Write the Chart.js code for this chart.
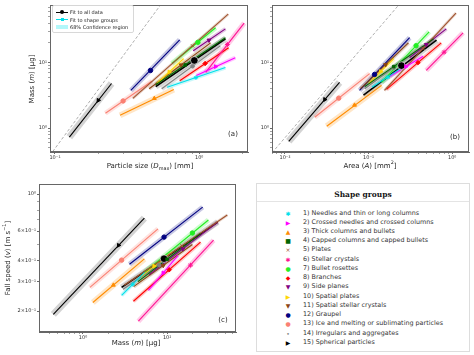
<!DOCTYPE html>
<html><head><meta charset="utf-8">
<script src="https://cdn.jsdelivr.net/npm/chart.js@4.4.1/dist/chart.umd.min.js"></script>
<style>
body{margin:0;width:474px;height:355px;position:relative;background:#fff;font-family:"DejaVu Sans",sans-serif;overflow:hidden}
canvas{position:absolute;left:0;top:0}
.t{position:absolute;white-space:nowrap;color:#222;transform:translate(-50%,-50%);line-height:1;opacity:0.99}
.t.r{transform:translate(-50%,-50%) rotate(-90deg)}
.ax{font-size:7px}
.pl{font-size:7px}
sub,sup{font-size:70%;line-height:0}
#lga{position:absolute;left:52px;top:5px;width:80px;height:26px;border:1px solid #d8d8d8;border-radius:2px;background:rgba(255,255,255,0.85);font-size:5px;color:#222;opacity:0.99}
#lga .row{position:absolute;left:0;height:6px;width:80px}
#lga .txt{position:absolute;left:17px;top:0;line-height:6px}
#lg{position:absolute;left:256px;top:183px;width:212px;height:167px;border:1px solid #ddd;background:#fff;opacity:0.99}
#lg .title{position:absolute;left:0;width:212px;top:6px;text-align:center;font-family:"DejaVu Serif",serif;font-weight:bold;font-size:7.5px;color:#111}
#lg .sep{position:absolute;left:0;width:212px;top:17px;border-top:1px solid #e4e4e4}
#lg .e{position:absolute;left:0;height:9px;width:212px;font-size:6.4px;color:#333;line-height:9px}
#lg .m{position:absolute;left:26px;width:10px;text-align:center;font-size:6px}
#lg .lt{position:absolute;left:46px}
</style></head><body>
<canvas id="ca" width="474" height="355" style="width:474px;height:355px"></canvas>
<canvas id="cb" width="474" height="355" style="width:474px;height:355px"></canvas>
<canvas id="cc" width="474" height="355" style="width:474px;height:355px"></canvas>

<div class="t r ax" style="left:32px;top:79px">Mass (<i>m</i>) [μg]</div>
<div class="t ax" style="left:150px;top:166px">Particle size (<i>D</i><sub>max</sub>) [mm]</div>
<div class="t ax" style="left:370px;top:166px">Area (<i>A</i>) [mm<sup>2</sup>]</div>
<div class="t r ax" style="left:8px;top:258px">Fall speed (<i>v</i>) [m s<sup>−1</sup>]</div>
<div class="t ax" style="left:136px;top:343px">Mass (<i>m</i>) [μg]</div>
<div class="t pl" style="left:233px;top:134px">(a)</div>
<div class="t pl" style="left:455px;top:137px">(b)</div>
<div class="t pl" style="left:223px;top:320px">(c)</div>

<div id="lga">
  <div class="row" style="top:3px"><div style="position:absolute;left:3px;top:2.5px;width:12px;border-top:1.2px solid #000"></div><div style="position:absolute;left:7px;top:1px;width:4px;height:4px;border-radius:50%;background:#000"></div><div class="txt">Fit to all data</div></div>
  <div class="row" style="top:10.5px"><div style="position:absolute;left:3px;top:2.5px;width:12px;border-top:1.2px solid #00e0ea"></div><div style="position:absolute;left:7.5px;top:1.5px;width:3px;height:3px;background:#00e0ea"></div><div class="txt">Fit to shape groups</div></div>
  <div class="row" style="top:18px"><div style="position:absolute;left:3px;top:1px;width:12px;height:4px;background:rgba(0,230,240,0.3)"></div><div class="txt">68% Confidence region</div></div>
</div>

<div id="lg"><div class="title">Shape groups</div><div class="sep"></div></div>

<script>
// ---------- data ----------
const groupNames = [
 '1) Needles and thin or long columns',
 '2) Crossed needles and crossed columns',
 '3) Thick columns and bullets',
 '4) Capped columns and capped bullets',
 '5) Plates',
 '6) Stellar crystals',
 '7) Bullet rosettes',
 '8) Branches',
 '9) Side planes',
 '10) Spatial plates',
 '11) Spatial stellar crystals',
 '12) Graupel',
 '13) Ice and melting or sublimating particles',
 '14) Irregulars and aggregates',
 '15) Spherical particles'
];
// index 0..14 = shape groups, index 15 = fit to all data
// Panel (a): mass [ug] vs Dmax [mm]
const aLineX = [[0.60,1.52],[0.955,1.78],[0.283,0.667],[0.50,1.52],[0.347,1.59],[1.11,2.05],[0.647,1.30],[0.733,1.60],[0.91,1.52],[0.51,0.78],[0.45,1.2],[0.336,0.733],[0.224,0.47],[0.55,1.4],[0.126,0.247],[0.50,1.52]];
const aLineY = [[4.2,8.4],[6.35,11.9],[1.57,3.9],[4.6,24],[2.85,55],[7.1,40],[9.7,34],[5.3,16.9],[15.2,32.7],[4.8,11.5],[4.0,20],[3.77,22.3],[1.69,5.2],[4.0,18],[0.73,4.8],[4.3,23]];
const aMarkX = [0.95,1.30,0.489,0.8,0.9,1.57,0.98,1.10,1.17,0.62,0.75,0.46,0.297,0.9,0.20,0.925];
const aMarkY = [5.9,8.7,2.85,9.2,18,18.9,20.4,9.7,22,7.2,9.2,7.6,2.6,8.8,2.66,10.8];
const aSphereX = [0.08,0.6];
const aSphereY = [0.25,104];
// Panel (b): mass [ug] vs area [mm2]
const bLineX = [[0.11,0.25],[0.18,0.45],[0.0316,0.143],[0.09,0.6],[0.155,1.11],[0.49,1.35],[0.143,0.53],[0.164,0.74],[0.31,0.85],[0.1,0.2],[0.08,0.3],[0.078,0.31],[0.0227,0.103],[0.09,0.45],[0.0111,0.045],[0.087,0.65]];
const bLineY = [[4.2,8.4],[6.2,12.5],[1.07,4.5],[4.3,23],[3.77,57],[7.6,28.5],[5.0,29.5],[3.9,20],[11.9,32.7],[4.8,11.5],[4.0,20],[3.77,24],[1.47,6.8],[4.0,18],[0.63,4.98],[3.2,22]];
const bMarkX = [0.17,0.28,0.068,0.2,0.45,0.8,0.37,0.39,0.49,0.14,0.16,0.118,0.044,0.2,0.03,0.247];
const bMarkY = [6.0,8.7,2.25,8.7,16.4,14.4,18.1,10.0,18.8,7.3,9.3,6.6,2.87,8.4,2.74,9.0];
const bSphereX = [0.007,0.25];
const bSphereY = [0.42,86];
// Panel (c): fall speed [m/s] vs mass [ug]
const cLineX = [[2.88,5.4],[6.0,13.5],[1.31,5.37],[4.5,25],[3.1,52],[4.56,35.7],[5.4,31],[3.98,25],[6.1,40],[4.8,11.5],[4,20],[3.57,26.5],[1.21,7.8],[3,18],[0.444,5.37],[2.88,40]];
const cLineY = [[0.248,0.341],[0.266,0.43],[0.225,0.41],[0.30,0.58],[0.285,0.75],[0.174,0.53],[0.341,0.70],[0.229,0.516],[0.33,0.68],[0.32,0.45],[0.28,0.5],[0.381,0.835],[0.277,0.62],[0.27,0.5],[0.191,0.718],[0.277,0.68]];
const cMarkX = [3.9,9,2.3,10,15,19,20,10.6,15.4,7,9,9.2,2.88,8,2.65,9.2];
const cMarkY = [0.289,0.338,0.286,0.408,0.49,0.376,0.585,0.353,0.47,0.371,0.374,0.553,0.403,0.377,0.494,0.411];
// tick labels
const aXTicks = [0.1,1], aXLabels = ['10⁻¹','10⁰'];
const aYTicks = [1,10], aYLabels = ['10⁰','10¹'];
const bXTicks = [0.01,0.1,1], bXLabels = ['10⁻²','10⁻¹','10⁰'];
const cXTicks = [1,10], cXLabels = ['10⁰','10¹'];
const cYTicks = [0.2,0.3,0.4,0.6,1], cYLabels = ['2×10⁻¹','3×10⁻¹','4×10⁻¹','6×10⁻¹','10⁰'];

// ---------- styles ----------
const colors = ['#00e0ea','#ff00ff','#ff8c00','#006400','#a0522d','#ff1493','#22ee22','#ff0000','#800080','#ffd700','#8b4513','#000080','#fa8072','#808080','#000000','#000000'];
const bandColors = colors.map((c,i)=> i===15 ? 'rgba(120,120,120,0.3)' : (i===14 ? 'rgba(110,110,110,0.3)' : hexA(c,0.22)));
const bandW = [4,4,6,4,3,5,5,4,4,5,4,5,5,5,7,6];
const pStyle = ['star','triangle','triangle','rect','crossRot','star','circle','rectRot','triangle','triangle','triangle','circle','circle','circle','triangle','circle'];
const pRot = [0,90,0,0,0,0,0,0,180,90,180,0,0,0,90,0];
const pRad = [2.2,2.2,2.2,1.8,2.2,2.4,2.2,2.2,2.2,2.2,2.2,2.2,2.2,1.8,2.2,3.8];
const legGlyph = ['✱','▶','▲','■','×','✱','●','◆','▼','▶','▼','●','●','•','▶'];

function hexA(h,a){const n=parseInt(h.slice(1),16);return `rgba(${n>>16&255},${n>>8&255},${n&255},${a})`;}

function buildDatasets(LX,LY,MX,MY,SX,SY){
  const ds=[];
  if(SX){ds.push({data:SX.map((x,i)=>({x,y:SY[i]})),showLine:true,borderColor:'#999',borderWidth:0.8,borderDash:[3,2],pointRadius:0,order:4});}
  for(let i=0;i<LX.length;i++){
    const pts=LX[i].map((x,k)=>({x,y:LY[i][k]}));
    ds.push({data:pts,showLine:true,borderColor:bandColors[i],borderWidth:bandW[i],borderCapStyle:'butt',pointRadius:0,order:3});
  }
  for(let i=0;i<LX.length;i++){
    const pts=LX[i].map((x,k)=>({x,y:LY[i][k]}));
    ds.push({data:pts,showLine:true,borderColor:colors[i],borderWidth:i===15?1.6:1.1,pointRadius:0,order:2});
  }
  for(let i=0;i<MX.length;i++){
    ds.push({data:[{x:MX[i],y:MY[i]}],pointStyle:pStyle[i],rotation:pRot[i],pointRadius:pRad[i],backgroundColor:colors[i],borderColor:i===15?'#fff':colors[i],borderWidth:i===15?0.6:1,order:1});
  }
  return ds;
}

function minorTicks(min,max){
  const out=[];
  for(let e=Math.floor(Math.log10(min));e<=Math.ceil(Math.log10(max));e++){
    for(let k=1;k<10;k++){const v=k*Math.pow(10,e);if(v>=min&&v<=max)out.push(v);}
  }
  return out;
}
function axis(pos,min,max,tv,tl,size){
  return {
    type:'logarithmic',position:pos,min,max,
    afterBuildTicks:s=>{s.ticks=minorTicks(min,max).map(v=>({value:v}));},
    afterFit:s=>{if(pos==='left')s.width=size;else s.height=size;},
    ticks:{autoSkip:false,maxRotation:0,padding:1,color:'#333',font:{size:5,family:'DejaVu Sans'},
      callback:(v)=>{const j=tv.findIndex(t=>Math.abs(t/v-1)<1e-6);return j>=0?tl[j]:'';}},
    grid:{drawOnChartArea:false,drawTicks:true,tickLength:2,
      tickColor:'#444',
      tickWidth:(c)=>{const v=c.tick&&c.tick.value;return tv.some(t=>Math.abs(t/v-1)<1e-6)?0.8:0.5;}},
    border:{display:true,color:'#666',width:1}
  };
}
const boxPlugin={id:'box',afterDraw(c){const a=c.chartArea,ctx=c.ctx;ctx.save();ctx.strokeStyle='#666';ctx.lineWidth=1;ctx.strokeRect(a.left+0.5,a.top+0.5,a.right-a.left-1,a.bottom-a.top-1);ctx.restore();}};

function panel(id,area,xs,ys,ds){
  const yw=22,xh=12;
  new Chart(document.getElementById(id),{
    type:'scatter',
    data:{datasets:ds},
    options:{responsive:false,animation:false,events:[],
      layout:{padding:{left:area[0]-yw,top:area[1],right:474-area[2],bottom:355-area[3]-xh}},
      plugins:{legend:{display:false},tooltip:{enabled:false}},
      scales:{x:axis('bottom',xs[0],xs[1],xs[2],xs[3],xh),y:axis('left',ys[0],ys[1],ys[2],ys[3],yw)}
    },
    plugins:[boxPlugin]
  });
}

panel('ca',[50,4,248,152],[0.0925,2.18,aXTicks,aXLabels],[0.433,75.7,aYTicks,aYLabels],buildDatasets(aLineX,aLineY,aMarkX,aMarkY,aSphereX,aSphereY));
panel('cb',[272,4,470,152],[0.0070,1.59,bXTicks,bXLabels],[0.433,75.7,aYTicks,aYLabels],buildDatasets(bLineX,bLineY,bMarkX,bMarkY,bSphereX,bSphereY));
panel('cc',[39,184,236,332],[0.32,66,cXTicks,cXLabels],[0.150,1.148,cYTicks,cYLabels],buildDatasets(cLineX,cLineY,cMarkX,cMarkY,null,null));

// legend box
const lg=document.getElementById('lg');
groupNames.forEach((n,i)=>{
  const e=document.createElement('div');e.className='e';e.style.top=(24.5+i*9.24)+'px';
  e.innerHTML=`<span class="m" style="color:${colors[i]}">${legGlyph[i]}</span><span class="lt">${n}</span>`;
  lg.appendChild(e);
});
</script>
</body></html>
